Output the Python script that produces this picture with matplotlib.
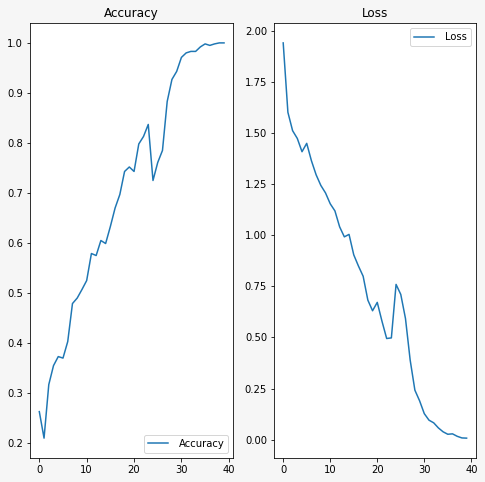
import numpy as np
import matplotlib

matplotlib.use("Agg")
import matplotlib.pyplot as plt

# values
epochs = list(range(40))
accuracy = [0.263, 0.210, 0.317, 0.355, 0.373, 0.370, 0.403, 0.479, 0.490, 0.507,
            0.525, 0.579, 0.575, 0.605, 0.599, 0.633, 0.670, 0.697, 0.743, 0.752,
            0.743, 0.798, 0.813, 0.837, 0.725, 0.761, 0.785, 0.883, 0.927, 0.943,
            0.971, 0.980, 0.983, 0.983, 0.992, 0.998, 0.995, 0.998, 1.000, 1.000]
loss = [1.943, 1.603, 1.513, 1.475, 1.410, 1.451, 1.366, 1.297, 1.245, 1.208,
        1.155, 1.120, 1.042, 0.993, 1.005, 0.905, 0.850, 0.800, 0.683, 0.631,
        0.672, 0.580, 0.495, 0.498, 0.760, 0.711, 0.593, 0.389, 0.242, 0.190,
        0.127, 0.095, 0.082, 0.057, 0.038, 0.026, 0.028, 0.016, 0.008, 0.007]

bg = "#f6f6f6"
fig = plt.figure(figsize=(485 / 72, 482 / 72), dpi=72, facecolor=bg)
ax1 = fig.add_axes([0.062, 0.050, 0.419, 0.902])
ax2 = fig.add_axes([0.565, 0.050, 0.416, 0.902])

ax1.plot(epochs, accuracy, label="Accuracy")
ax1.set_title("Accuracy")
ax1.legend(loc="lower right", handletextpad=1.1)

ax2.plot(epochs, loss, label="Loss")
ax2.set_title("Loss")
ax2.legend(loc="upper right", handletextpad=1.1)

for ax in (ax1, ax2):
    ax.set_xticks([0, 10, 20, 30, 40])

fig.savefig("out.png", dpi=72, facecolor=bg)
